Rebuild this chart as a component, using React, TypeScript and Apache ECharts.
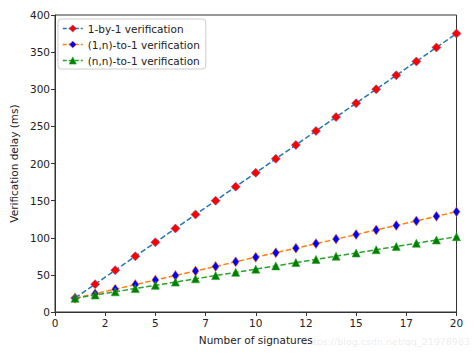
import React, { useEffect, useRef } from "react";
import * as echarts from "echarts";

const xValues = [1, 2, 3, 4, 5, 6, 7, 8, 9, 10, 11, 12, 13, 14, 15, 16, 17, 18, 19, 20];
const oneByOne = [18.8, 37.5, 56.3, 75, 93.8, 112.5, 131.3, 150, 168.8, 187.5, 206.3, 225, 243.8, 262.5, 281.3, 300, 318.8, 337.5, 356.3, 375];
const oneNToOne = [18.5, 24.6, 30.8, 36.9, 43.0, 49.2, 55.3, 61.4, 67.6, 73.7, 79.8, 86.0, 92.1, 98.2, 104.3, 110.5, 116.6, 122.7, 128.9, 135];
const nnToOne = [18.5, 22.9, 27.2, 31.6, 35.9, 40.3, 44.7, 49.0, 53.4, 57.7, 62.1, 66.5, 70.8, 75.2, 79.5, 83.9, 88.3, 92.6, 97.0, 101.4];
const seriesNames = ["1-by-1 verification", "(1,n)-to-1 verification", "(n,n)-to-1 verification"];

const FONT = "DejaVu Sans";

const styles = [
  { line: "#1f77b4", fill: "#ff0000", edge: "#6a5a9a", symbol: "diamond", size: [9, 9] as any },
  { line: "#ff7f0e", fill: "#0000ff", edge: "#ff7f0e", symbol: "path://M0,-1 L0.6,0 L0,1 L-0.6,0 Z", size: [7, 10] as any },
  { line: "#2ca02c", fill: "#008000", edge: "#2ca02c", symbol: "triangle", size: 8 as any },
];

export default function App() {
  const ref = useRef<HTMLDivElement>(null);
  useEffect(() => {
    if (!ref.current) return;
    const chart = echarts.init(ref.current, null, { renderer: "svg" });
    const pair = (ys: number[]) => xValues.map((x, i) => [x, ys[i]]);
    const axisLine = { show: true, lineStyle: { color: "#333", width: 1 } };
    const allData = [oneByOne, oneNToOne, nnToOne];
    chart.setOption({
      animation: false,
      backgroundColor: "#fff",
      grid: { left: 53, right: 17.5, top: 15, bottom: 43, show: true, borderColor: "#333", borderWidth: 1, backgroundColor: "transparent" },
      legend: {
        orient: "vertical",
        left: 58,
        top: 19,
        backgroundColor: "rgba(255,255,255,0.85)",
        borderColor: "#ccc",
        borderWidth: 1,
        borderRadius: 3,
        padding: [4, 6, 3, 4],
        itemWidth: 20,
        itemHeight: 9,
        itemGap: 5,
        textStyle: { fontFamily: FONT, fontSize: 10.5, color: "#222" },
        data: seriesNames.map((n, i) => ({
          name: n,
          itemStyle: { color: styles[i].fill, borderColor: styles[i].edge, borderWidth: 0.6 },
          lineStyle: { color: styles[i].line, width: 1.5, type: [4, 2] },
        })),
      },
      xAxis: {
        type: "value",
        min: 0,
        max: 20,
        interval: 2.5,
        name: "Number of signatures",
        nameLocation: "middle",
        nameGap: 22,
        nameTextStyle: { fontFamily: FONT, fontSize: 10.5, color: "#222" },
        axisLine,
        axisTick: { show: true, length: 4, lineStyle: { color: "#333" } },
        axisLabel: { fontFamily: FONT, fontSize: 10.5, color: "#222", margin: 5, formatter: (v: number) => String(Math.floor(v)) },
        splitLine: { show: false },
      },
      yAxis: {
        type: "value",
        min: 0,
        max: 400,
        interval: 50,
        name: "Verification delay (ms)",
        nameLocation: "middle",
        nameGap: 36,
        nameTextStyle: { fontFamily: FONT, fontSize: 10.5, color: "#222" },
        axisLine,
        axisTick: { show: true, length: 4, lineStyle: { color: "#333" } },
        axisLabel: { fontFamily: FONT, fontSize: 10.5, color: "#222", margin: 5 },
        splitLine: { show: false },
      },
      series: seriesNames.map((n, i) => ({
        name: n,
        type: "line",
        data: pair(allData[i]),
        symbol: styles[i].symbol,
        symbolSize: styles[i].size,
        lineStyle: { color: styles[i].line, width: 1.5, type: [5.5, 2.5] },
        itemStyle: { color: styles[i].fill, borderColor: styles[i].edge, borderWidth: 0.6 },
        z: 2 + i,
      })),
      graphic: [
        {
          type: "text",
          right: 4,
          top: 336,
          style: { text: "https://blog.csdn.net/qq_21978983", fontFamily: FONT, fontSize: 9.5, fill: "rgba(200,200,200,0.35)" },
          silent: true,
        },
      ],
    });
    return () => chart.dispose();
  }, []);
  return <div ref={ref} style={{ position: "fixed", left: 0, top: 0, width: 474, height: 355 }} />;
}
